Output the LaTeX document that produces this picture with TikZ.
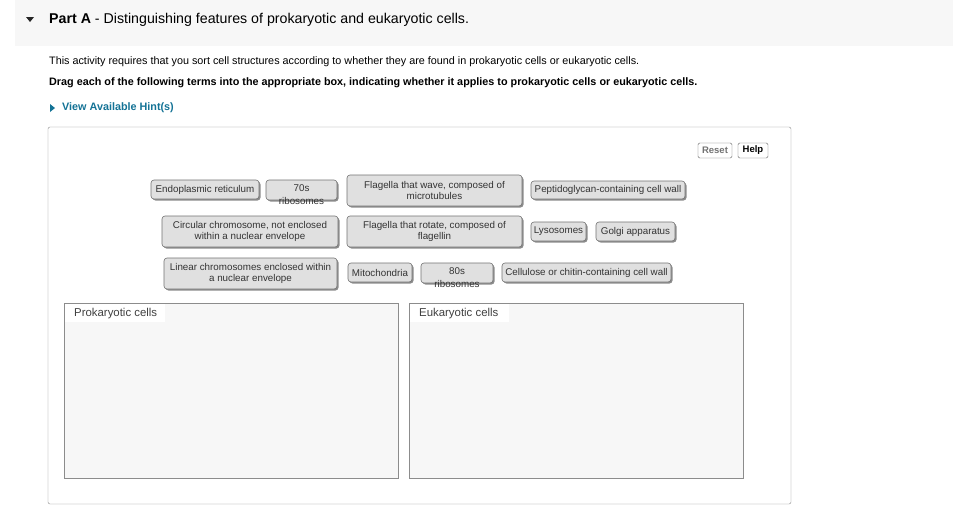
\documentclass[tikz,border=0pt]{standalone}
\usepackage{fontspec}
\setmainfont{Liberation Sans}
\definecolor{hintc}{RGB}{20,115,150}
\begin{document}
\begin{tikzpicture}[x=1pt,y=-1pt,
  tile/.style={draw=black!55,fill=black!12,rounded corners=3pt,line width=0.6pt},
  tshadow/.style={fill=black!45,rounded corners=3pt},
  ttext/.style={font=\fontsize{9.8}{11.5}\selectfont,text=black!80,align=center,inner sep=0pt},
  zone/.style={draw=black!45,fill=black!3,line width=0.5pt},
  btn/.style={draw=black!60,fill=white,rounded corners=1.5pt,font=\fontsize{9.5}{10}\selectfont\bfseries,inner sep=1.5pt}]
\useasboundingbox (0,0) rectangle (953,506);
\fill[white] (0,0) rectangle (953,506);
\fill[black!3] (15,0) rectangle (953,46);
\fill[black!85] (26,17) -- (34,17) -- (30,22) -- cycle;
\node[anchor=west,inner sep=0pt,font=\fontsize{14.2}{16}\selectfont] (title) at (49,20) {\textbf{Part A} - Distinguishing features of prokaryotic and eukaryotic cells.};
\node[anchor=west,inner sep=0pt,font=\fontsize{10.8}{12}\selectfont] (intro) at (49,62) {This activity requires that you sort cell structures according to whether they are found in prokaryotic cells or eukaryotic cells.};
\node[anchor=west,inner sep=0pt,font=\fontsize{10.8}{12}\selectfont\bfseries] (drag) at (49,83) {Drag each of the following terms into the appropriate box, indicating whether it applies to prokaryotic cells or eukaryotic cells.};
\fill[hintc] (50,104) -- (50,112) -- (55,108) -- cycle;
\node[anchor=west,inner sep=0pt,font=\fontsize{10.8}{12}\selectfont\bfseries,text=hintc] (hint) at (62,108) {View Available Hint(s)};
\draw[black!45,fill=white,rounded corners=2pt] (48,127) rectangle (791,504);
\node[btn,text=black!55,minimum width=34pt,minimum height=15pt] (reset) at (715,150.5) {Reset};
\node[btn,minimum width=30pt,minimum height=15pt] (help) at (753,150.5) {Help};
% tiles
\foreach \xa/\ya/\xb/\yb/\nm in {151/180/259/199/a,266/180/337/200/b,347/175/522/206/c,531/181/685/199/d,162/216/338/247/e,347/216/522/247/f,531/222/586/241/g,596/222/675/241/h,164/258/337/289/i,348/263/412/282/j,421/263/493/283/k,502/263/671/282/l}{
  \fill[tshadow] (\xa+1.5,\ya+1.5) rectangle (\xb+1.5,\yb+1.5);
  \draw[tile] (\xa,\ya) rectangle (\xb,\yb);
  \coordinate (t\nm) at ({(\xa+\xb)/2},{(\ya+\yb)/2});
}
\node[ttext] (na) at (ta) {Endoplasmic reticulum};
\node[ttext,font=\fontsize{9.8}{13}\selectfont] (nb) at ([yshift=-4.5]tb) {70s\\ribosomes};
\node[ttext] (nc) at (tc) {Flagella that wave, composed of\\microtubules};
\node[ttext] (nd) at (td) {Peptidoglycan-containing cell wall};
\node[ttext] (ne) at (te) {Circular chromosome, not enclosed\\within a nuclear envelope};
\node[ttext] (nf) at (tf) {Flagella that rotate, composed of\\flagellin};
\node[ttext] (ng) at (tg) {Lysosomes};
\node[ttext] (nh) at (th) {Golgi apparatus};
\node[ttext] (ni) at (ti) {Linear chromosomes enclosed within\\a nuclear envelope};
\node[ttext] (nj) at (tj) {Mitochondria};
\node[ttext,font=\fontsize{9.8}{13}\selectfont] (nk) at ([yshift=-4.5]tk) {80s\\ribosomes};
\node[ttext] (nl) at (tl) {Cellulose or chitin-containing cell wall};
% zones
\draw[zone] (64,303) rectangle (398,478);
\fill[white] (65,304) rectangle (165,322);
\node[anchor=west,inner sep=0pt,font=\fontsize{11.4}{13}\selectfont,text=black!75] (pro) at (74,314) {Prokaryotic cells};
\draw[zone] (409,303) rectangle (743,478);
\fill[white] (410,304) rectangle (509,322);
\node[anchor=west,inner sep=0pt,font=\fontsize{11.4}{13}\selectfont,text=black!75] (eu) at (419,314) {Eukaryotic cells};
\end{tikzpicture}
\end{document}
